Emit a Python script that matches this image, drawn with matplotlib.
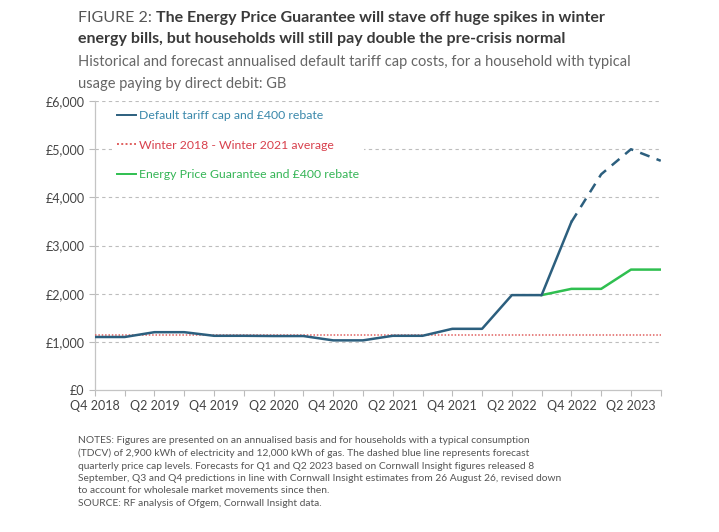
import matplotlib
matplotlib.use('Agg')
import matplotlib.pyplot as plt

plt.rcParams['font.family'] = ['Lato', 'DejaVu Sans']

# quarters from Q4 2018 to Q3 2023
quarters = ['Q4 2018', 'Q1 2019', 'Q2 2019', 'Q3 2019', 'Q4 2019', 'Q1 2020',
            'Q2 2020', 'Q3 2020', 'Q4 2020', 'Q1 2021', 'Q2 2021', 'Q3 2021',
            'Q4 2021', 'Q1 2022', 'Q2 2022', 'Q3 2022', 'Q4 2022', 'Q1 2023',
            'Q2 2023', 'Q3 2023']
default_cap = [1100, 1100, 1200, 1200, 1125, 1125, 1120, 1120, 1030, 1030,
               1125, 1125, 1270, 1270, 1970, 1970, 3490]
default_forecast = [3490, 4480, 5000, 4760]
epg = [1970, 2100, 2100, 2500, 2500]
winter_avg = 1140

x_all = list(range(len(quarters)))
x_cap = x_all[:len(default_cap)]
x_fc = x_all[len(default_cap) - 1:]
x_epg = x_all[15:]

blue = '#2c5f7e'
red = '#e0605f'
green = '#2fbf50'

fig = plt.figure(figsize=(7.19, 5.32), dpi=100)
ax = fig.add_axes([0.132, 0.267, 0.787, 0.543])

ax.plot(x_all, [winter_avg] * len(x_all), color=red, lw=1.1, ls=(0, (1, 1.2)),
        label='Winter 2018 - Winter 2021 average', zorder=3)
ax.plot(x_cap, default_cap, color=blue, lw=1.8, label='Default tariff cap and £400 rebate', zorder=4)
ax.plot(x_fc, default_forecast, color=blue, lw=1.8, ls=(0, (4, 3)), zorder=4)
ax.plot(x_epg, epg, color=green, lw=1.8, label='Energy Price Guarantee and £400 rebate', zorder=3)

ax.set_xlim(0, 19)
ax.set_ylim(0, 6000)
ax.set_yticks(range(0, 6001, 1000))
ax.set_yticklabels(['£0'] + ['£{:,}'.format(v) for v in range(1000, 6001, 1000)])
ax.set_xticks(x_all)
ax.set_xticklabels([q if i % 2 == 0 else '' for i, q in enumerate(quarters)])
ax.tick_params(axis='both', colors='#bbbbbb', labelcolor='#444444', labelsize=9, length=4, width=0.8)
ax.tick_params(axis='x', pad=3)
for s in ['top', 'right']:
    ax.spines[s].set_visible(False)
for s in ['left', 'bottom']:
    ax.spines[s].set_color('#c4c4c4')
    ax.spines[s].set_linewidth(0.9)
for v in range(1000, 6001, 1000):
    ax.axhline(v, color='#bdbdbd', lw=0.8, ls=(0, (3, 3)), zorder=1)

h, l = ax.get_legend_handles_labels()
order = [1, 0, 2]
leg = ax.legend([h[i] for i in order], [l[i] for i in order], loc='upper left',
                bbox_to_anchor=(0.03, 0.985), frameon=True, fontsize=8.8,
                handlelength=1.6, handletextpad=0.2, labelspacing=1.5,
                borderpad=0.4, borderaxespad=0)
leg.get_frame().set_facecolor('white')
leg.get_frame().set_edgecolor('none')
leg.get_frame().set_alpha(1)
for t, c in zip(leg.get_texts(), ['#3a88ab', '#d8404c', '#35b556']):
    t.set_color(c)
for ln in leg.get_lines():
    ln.set_linewidth(1.4)
leg.set_zorder(5)

# title
fig.canvas.draw()
r = fig.canvas.get_renderer()
t1 = fig.text(0.108, 0.967, 'FIGURE 2: ', fontsize=11.5, color='#555555', va='center')
bb = t1.get_window_extent(r)
x2 = bb.x1 / fig.bbox.width
fig.text(x2, 0.967, 'The Energy Price Guarantee will stave off huge spikes in winter',
         fontsize=11.5, color='#3a3a3a', va='center', weight='bold')
fig.text(0.108, 0.927, 'energy bills, but households will still pay double the pre-crisis normal',
         fontsize=11.5, color='#3a3a3a', va='center', weight='bold')
fig.text(0.108, 0.884, 'Historical and forecast annualised default tariff cap costs, for a household with typical',
         fontsize=10.5, color='#666666', va='center')
fig.text(0.108, 0.843, 'usage paying by direct debit: GB',
         fontsize=10.5, color='#666666', va='center')

notes = ('NOTES: Figures are presented on an annualised basis and for households with a typical consumption\n'
         '(TDCV) of 2,900 kWh of electricity and 12,000 kWh of gas. The dashed blue line represents forecast\n'
         'quarterly price cap levels. Forecasts for Q1 and Q2 2023 based on Cornwall Insight figures released 8\n'
         'September, Q3 and Q4 predictions in line with Cornwall Insight estimates from 26 August 26, revised down\n'
         'to account for wholesale market movements since then.\n'
         'SOURCE: RF analysis of Ofgem, Cornwall Insight data.')
fig.text(0.108, 0.180, notes, fontsize=7.35, color='#555555', va='top', linespacing=1.48)

fig.savefig('out.png', dpi=100)
